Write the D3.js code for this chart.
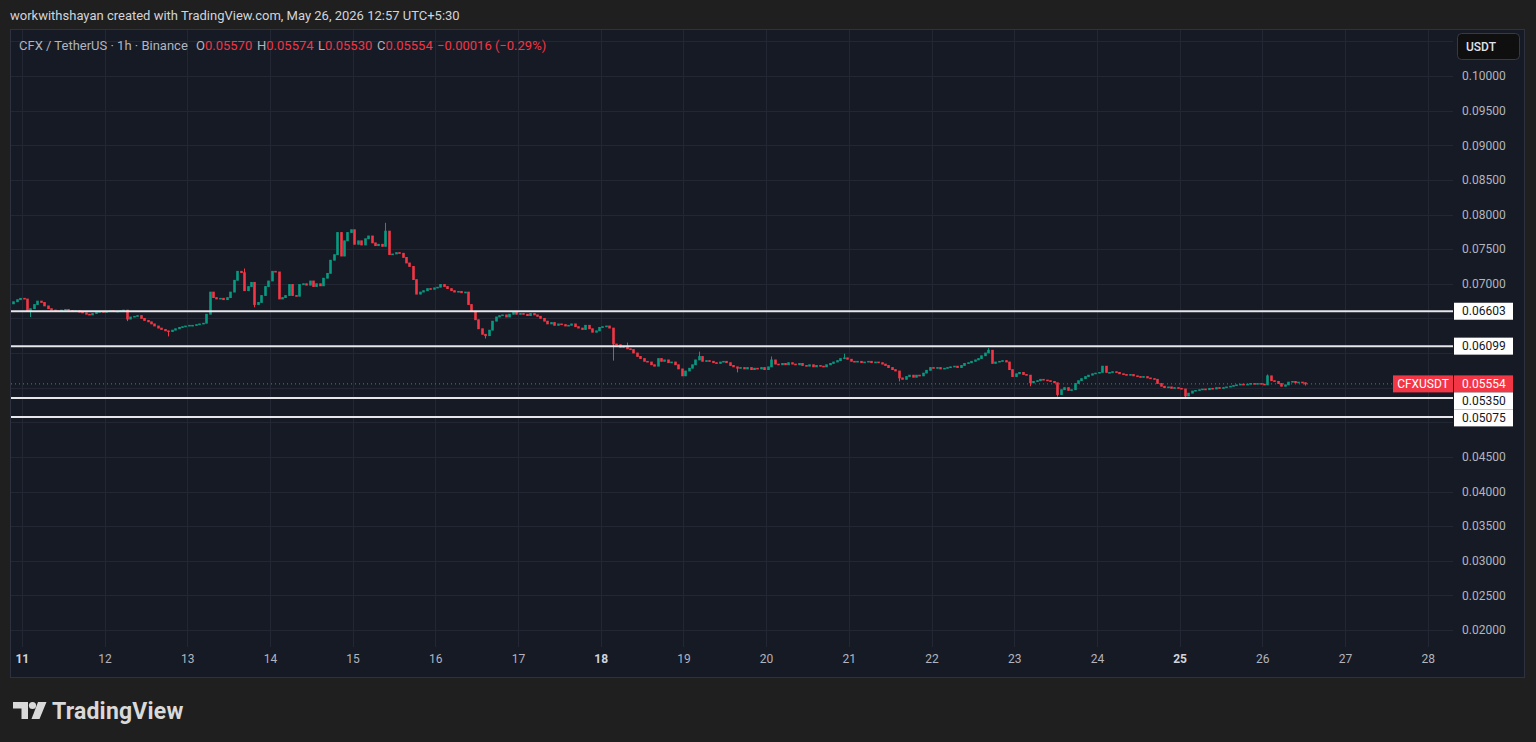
<!DOCTYPE html>
<html>
<head>
<meta charset="utf-8">
<script src="https://cdn.jsdelivr.net/npm/d3@7"></script>
<style>
body { margin: 0; background: #1f1f1f; }
svg { display: block; font-family: Roboto, "Noto Sans", sans-serif; }
</style>
</head>
<body>
<svg id="svg"></svg>
<script>
var W = 1536, H = 742;
var panel = {left: 10, top: 29, right: 1525, bottom: 678};
var plotRight = 1453, plotBottom = 647;

// hourly candles, prices in 1e-5 USDT, open = previous close
var firstOpen = 6710;
var firstHour = -2.5; // hours from 11th 00:00 (UTC+5:30), candle centre
var closes = [
  6740,6770,6790,6780,6600,6640,6700,6750,6730,6680,6640,6620,
  6610,6600,6620,6630,6615,6600,6610,6590,6580,6560,6550,6570,
  6590,6600,6590,6600,6610,6600,6605,6610,6620,6490,6520,6530,
  6540,6500,6470,6450,6420,6390,6360,6340,6320,6310,6330,6350,
  6370,6380,6390,6400,6400,6410,6420,6430,6560,6880,6800,6780,
  6790,6770,6800,6880,7050,7180,7160,6900,6960,7020,6700,6730,
  6830,6960,7040,7180,7170,6780,6800,6830,6990,6830,6820,6990,
  7000,6980,7040,6960,7000,6970,7080,7150,7340,7420,7740,7400,
  7620,7740,7780,7570,7620,7560,7650,7690,7590,7550,7570,7540,
  7760,7420,7430,7450,7440,7380,7300,7250,7060,6850,6880,6900,
  6930,6920,6940,6950,6990,6960,6930,6900,6880,6890,6870,6880,
  6700,6600,6480,6350,6270,6250,6330,6460,6520,6540,6550,6520,
  6560,6590,6560,6570,6560,6540,6570,6550,6530,6500,6460,6420,
  6440,6400,6420,6410,6390,6400,6420,6380,6360,6340,6400,6350,
  6300,6320,6370,6380,6390,6360,6130,6120,6080,6100,6060,6050,
  6000,5950,5920,5880,5870,5830,5810,5920,5880,5900,5860,5870,
  5830,5770,5670,5740,5780,5830,5900,5950,5880,5890,5880,5860,
  5850,5870,5880,5860,5820,5800,5780,5790,5770,5790,5760,5780,
  5770,5790,5760,5800,5900,5840,5830,5850,5830,5860,5840,5830,
  5850,5820,5810,5830,5800,5820,5810,5800,5830,5850,5870,5890,
  5920,5930,5910,5880,5870,5880,5860,5870,5880,5860,5870,5860,
  5840,5820,5790,5760,5740,5640,5620,5660,5680,5650,5680,5670,
  5710,5750,5790,5780,5790,5770,5780,5790,5800,5810,5790,5820,
  5850,5860,5880,5900,5920,5960,6000,6040,5850,5870,5880,5890,
  5870,5760,5660,5700,5720,5690,5680,5570,5590,5600,5620,5610,
  5600,5590,5570,5400,5470,5500,5460,5470,5560,5600,5630,5660,
  5680,5700,5710,5720,5810,5720,5720,5730,5720,5700,5690,5680,
  5690,5670,5660,5650,5660,5640,5630,5620,5560,5520,5500,5510,
  5490,5500,5490,5480,5380,5420,5450,5460,5470,5480,5470,5490,
  5480,5500,5490,5500,5510,5520,5530,5540,5550,5540,5550,5560,
  5550,5560,5550,5540,5670,5600,5590,5560,5520,5540,5580,5590,
  5570,5580,5570,5554
];
// [candle index, high, low] where the wick sticks out of the body
var wicks = [
  [5, null, 6520], [33, null, 6460], [45, null, 6240], [67, 7220, null],
  [70, null, 6660], [108, 7880, null], [137, null, 6210], [174, null, 5890],
  [178, 6150, null], [199, 6020, null], [210, null, 5720], [220, 5950, null],
  [241, 5990, null], [257, null, 5590], [283, 6070, null], [295, null, 5520],
  [303, null, 5370], [340, null, 5350], [364, 5690, null], [375, 5574, 5530]
];

var dayLabels = ["11","12","13","14","15","16","17","18","19","20","21","22","23","24","25","26","27","28"];
var boldDays = ["11","18","25"];
var priceTicks = [0.02,0.025,0.03,0.035,0.04,0.045,0.05,0.055,0.06,0.065,0.07,0.075,0.08,0.085,0.09,0.095,0.1,0.105];
var levels = [0.06603, 0.06099, 0.05350, 0.05075];
var lastPrice = 0.05554;
var symbol = "CFXUSDT";
var legendTitle = "CFX / TetherUS · 1h · Binance";
var legendKeys = ["O","H","L","C"];
var legendVals = ["0.05570","0.05574","0.05530","0.05554"];
var legendChange = "−0.00016 (−0.29%)";
var headerText = "workwithshayan created with TradingView.com, May 26, 2026 12:57 UTC+5:30";

var upColor = "#089981", downColor = "#f23645";
var gridColor = "#232733", textColor = "#b2b5be";
var boxH = 17;

svg = d3.select("#svg").attr("width", W).attr("height", H);
svg.append("rect").attr("width", W).attr("height", H).attr("fill", "#1f1f1f");

svg.append("rect")
  .attr("x", panel.left + 0.5).attr("y", panel.top + 0.5)
  .attr("width", panel.right - panel.left - 1).attr("height", panel.bottom - panel.top - 1)
  .attr("fill", "#161a25").attr("stroke", "#2e3240");

xScale = d3.scaleLinear().domain([0, 17 * 24]).range([21.8, 1427.7]);
yScale = d3.scaleLinear().domain([0.02, 0.1]).range([630, 76]);

svg.append("defs").append("clipPath").attr("id", "clip")
  .append("rect").attr("x", panel.left + 1).attr("y", panel.top + 1)
  .attr("width", plotRight - panel.left - 1).attr("height", plotBottom - panel.top - 1);

// grid
var grid = svg.append("g");
grid.selectAll(".hg").data(priceTicks).enter().append("line")
  .attr("x1", panel.left + 1).attr("x2", plotRight)
  .attr("y1", d => Math.round(yScale(d)) + 0.5).attr("y2", d => Math.round(yScale(d)) + 0.5)
  .attr("stroke", gridColor);
grid.selectAll(".vg").data(dayLabels).enter().append("line")
  .attr("x1", (d, i) => Math.round(xScale(i * 24)) + 0.5).attr("x2", (d, i) => Math.round(xScale(i * 24)) + 0.5)
  .attr("y1", panel.top + 1).attr("y2", plotBottom)
  .attr("stroke", gridColor);

// candles
var candles = closes.map((c, i) => {
  var o = i == 0 ? firstOpen : closes[i - 1];
  return {t: firstHour + i, o: o, c: c, h: Math.max(o, c), l: Math.min(o, c)};
});
wicks.forEach(w => {
  if (w[1] != null) candles[w[0]].h = w[1];
  if (w[2] != null) candles[w[0]].l = w[2];
});
candles.forEach(d => { d.o /= 1e5; d.c /= 1e5; d.h /= 1e5; d.l /= 1e5; });

var cg = svg.append("g").attr("clip-path", "url(#clip)");
cg.selectAll(".wick").data(candles).enter().append("line")
  .attr("x1", d => Math.round(xScale(d.t)) + 0.5).attr("x2", d => Math.round(xScale(d.t)) + 0.5)
  .attr("y1", d => yScale(d.h)).attr("y2", d => yScale(d.l))
  .attr("stroke", d => d.c >= d.o ? upColor : downColor).attr("stroke-width", 1);
cg.selectAll(".body").data(candles).enter().append("rect")
  .attr("x", d => Math.round(xScale(d.t)) - 0.8)
  .attr("width", 2.6)
  .attr("y", d => yScale(Math.max(d.o, d.c)) - 0.4)
  .attr("height", d => Math.max(1.6, Math.abs(yScale(d.o) - yScale(d.c)) + 0.8))
  .attr("fill", d => d.c >= d.o ? upColor : downColor);

// last price dotted line
svg.append("line")
  .attr("x1", panel.left + 1).attr("x2", 1393)
  .attr("y1", yScale(lastPrice)).attr("y2", yScale(lastPrice))
  .attr("stroke", downColor).attr("stroke-width", 1).attr("stroke-dasharray", "1,3");

// horizontal levels
svg.selectAll(".level").data(levels).enter().append("line")
  .attr("x1", panel.left + 1).attr("x2", plotRight)
  .attr("y1", d => yScale(d)).attr("y2", d => yScale(d))
  .attr("stroke", "#e6e7ea").attr("stroke-width", 2);

// price labels, stacked so they don't overlap
var tags = levels.map(v => ({v: v, last: false})).concat([{v: lastPrice, last: true}]);
tags.forEach(d => d.y = yScale(d.v) - boxH / 2);
tags.sort((a, b) => a.y - b.y);
for (var k = 1; k < tags.length; k++) {
  if (tags[k].y < tags[k - 1].y + boxH) tags[k].y = tags[k - 1].y + boxH;
}
// the axis hides labels sitting under a tag or under the currency button
var hidden = d => {
  var y = yScale(d);
  if (y < 62) return true;
  return tags.some(t => y > t.y && y < t.y + boxH);
};

// price axis
yAxis = svg.append("g").attr("transform", "translate(1462,0)")
  .call(d3.axisRight(yScale).tickValues(priceTicks.filter(d => !hidden(d))).tickFormat(d3.format(".5f")).tickSize(0).tickPadding(0));
yAxis.select(".domain").remove();
yAxis.selectAll("text").attr("fill", textColor).attr("font-size", 12).attr("font-family", "Roboto, 'Noto Sans', sans-serif");

// time axis
xAxis = svg.append("g").attr("transform", "translate(0," + 654 + ")")
  .call(d3.axisBottom(xScale).tickValues(dayLabels.map((d, i) => i * 24)).tickFormat((d, i) => dayLabels[i]).tickSize(0).tickPadding(0));
xAxis.select(".domain").remove();
xAxis.selectAll("text")
  .attr("fill", (d, i) => boldDays.includes(dayLabels[i]) ? "#d1d4dc" : textColor)
  .attr("font-weight", (d, i) => boldDays.includes(dayLabels[i]) ? 700 : 400)
  .attr("font-size", 12).attr("font-family", "Roboto, 'Noto Sans', sans-serif");

var tg = svg.selectAll(".tag").data(tags).enter().append("g");
tg.append("rect")
  .attr("x", 1454).attr("y", d => d.y).attr("width", 59).attr("height", boxH)
  .attr("fill", d => d.last ? downColor : "#ffffff");
tg.append("text")
  .attr("x", 1462).attr("y", d => d.y + boxH / 2).attr("dy", "0.35em")
  .attr("font-size", 12).attr("fill", d => d.last ? "#ffffff" : "#131722")
  .text(d => d3.format(".5f")(d.v));
var lastTag = tags.find(d => d.last);
svg.append("rect").attr("x", 1393).attr("y", lastTag.y).attr("width", 60).attr("height", boxH).attr("fill", downColor);
svg.append("text").attr("x", 1423).attr("y", lastTag.y + boxH / 2).attr("dy", "0.35em")
  .attr("text-anchor", "middle").attr("font-size", 12).attr("fill", "#ffffff").text(symbol);

// currency button
svg.append("rect").attr("x", 1457.5).attr("y", 33.5).attr("width", 62).attr("height", 26).attr("rx", 4)
  .attr("fill", "#0f0f0f").attr("stroke", "#363a45");
svg.append("text").attr("x", 1466).attr("y", 46.5).attr("dy", "0.35em")
  .attr("font-size", 12).attr("font-weight", 500).attr("fill", "#e0e3eb").text("USDT");

// header + legend
svg.append("text").attr("x", 10).attr("y", 20).attr("font-size", 13).attr("fill", "#d1d4dc").text(headerText);
svg.append("text").attr("x", 19).attr("y", 49.5).attr("font-size", 13).attr("fill", textColor).text(legendTitle);
var legX = [196, 257, 318, 377];
legendKeys.forEach((k, i) => {
  var t = svg.append("text").attr("x", legX[i]).attr("y", 49.5).attr("font-size", 13);
  t.append("tspan").attr("fill", textColor).text(k);
  t.append("tspan").attr("fill", downColor).text(legendVals[i]);
});
svg.append("text").attr("x", 437).attr("y", 49.5).attr("font-size", 13).attr("fill", downColor).text(legendChange);

// TradingView logo
var logo = svg.append("g").attr("fill", "#d9d9d9");
logo.append("path").attr("d", "M13,702 h15 v17 h-6.5 v-10.5 h-8.5 z");
logo.append("circle").attr("cx", 32.5).attr("cy", 705.5).attr("r", 3.6);
logo.append("path").attr("d", "M38,702 h8.5 l-7,17 h-8 z");
svg.append("text").attr("x", 52).attr("y", 719).attr("font-size", 23).attr("font-weight", 700)
  .attr("fill", "#d9d9d9").attr("letter-spacing", "0.2").text("TradingView");
</script>
</body>
</html>
